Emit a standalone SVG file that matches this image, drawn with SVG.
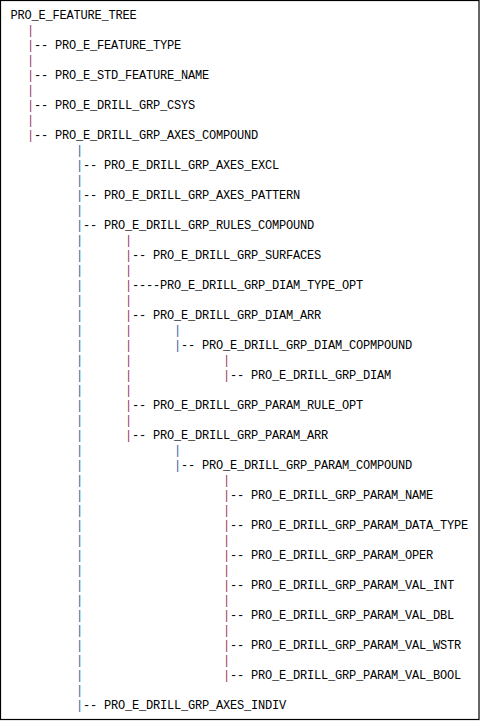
<svg xmlns="http://www.w3.org/2000/svg" width="481" height="721" viewBox="0 0 481 721">
<style>
text{font-family:"Liberation Mono","Courier New",monospace;font-size:12px;letter-spacing:-0.2px;fill:#000}
.p{fill:#993366}
.b{fill:#336699}
</style>
<rect x="0" y="0" width="481" height="721" fill="#fff"/>
<rect x="0.5" y="0.5" width="478.5" height="719" fill="none" stroke="#000" stroke-width="1.2"/>
<g id="connectors">
<text x="27" y="34" class="p">|</text>
<text x="27" y="49"><tspan class="p">|</tspan>--</text>
<text x="27" y="64" class="p">|</text>
<text x="27" y="79"><tspan class="p">|</tspan>--</text>
<text x="27" y="94" class="p">|</text>
<text x="27" y="109"><tspan class="p">|</tspan>--</text>
<text x="27" y="124" class="p">|</text>
<text x="27" y="139"><tspan class="p">|</tspan>--</text>
<text x="76" y="154" class="b">|</text>
<text x="76" y="169"><tspan class="b">|</tspan>--</text>
<text x="76" y="184" class="b">|</text>
<text x="76" y="199"><tspan class="b">|</tspan>--</text>
<text x="76" y="214" class="b">|</text>
<text x="76" y="229"><tspan class="b">|</tspan>--</text>
<text x="76" y="244" class="b">|</text><text x="125" y="244" class="p">|</text>
<text x="76" y="259" class="b">|</text><text x="125" y="259"><tspan class="p">|</tspan>--</text>
<text x="76" y="274" class="b">|</text><text x="125" y="274" class="p">|</text>
<text x="76" y="289" class="b">|</text><text x="125" y="289"><tspan class="p">|</tspan>----</text>
<text x="76" y="304" class="b">|</text><text x="125" y="304" class="p">|</text>
<text x="76" y="319" class="b">|</text><text x="125" y="319"><tspan class="p">|</tspan>--</text>
<text x="76" y="334" class="b">|</text><text x="125" y="334" class="p">|</text><text x="174" y="334" class="b">|</text>
<text x="76" y="349" class="b">|</text><text x="125" y="349" class="p">|</text><text x="174" y="349"><tspan class="b">|</tspan>--</text>
<text x="76" y="364" class="b">|</text><text x="125" y="364" class="p">|</text><text x="223" y="364" class="p">|</text>
<text x="76" y="379" class="b">|</text><text x="125" y="379" class="p">|</text><text x="223" y="379"><tspan class="p">|</tspan>--</text>
<text x="76" y="394" class="b">|</text><text x="125" y="394" class="p">|</text>
<text x="76" y="409" class="b">|</text><text x="125" y="409"><tspan class="p">|</tspan>--</text>
<text x="76" y="424" class="b">|</text><text x="125" y="424" class="p">|</text>
<text x="76" y="439" class="b">|</text><text x="125" y="439"><tspan class="p">|</tspan>--</text>
<text x="76" y="454" class="b">|</text><text x="174" y="454" class="b">|</text>
<text x="76" y="469" class="b">|</text><text x="174" y="469"><tspan class="b">|</tspan>--</text>
<text x="76" y="484" class="b">|</text><text x="223" y="484" class="p">|</text>
<text x="76" y="499" class="b">|</text><text x="223" y="499"><tspan class="p">|</tspan>--</text>
<text x="76" y="514" class="b">|</text><text x="223" y="514" class="p">|</text>
<text x="76" y="529" class="b">|</text><text x="223" y="529"><tspan class="p">|</tspan>--</text>
<text x="76" y="544" class="b">|</text><text x="223" y="544" class="p">|</text>
<text x="76" y="559" class="b">|</text><text x="223" y="559"><tspan class="p">|</tspan>--</text>
<text x="76" y="574" class="b">|</text><text x="223" y="574" class="p">|</text>
<text x="76" y="589" class="b">|</text><text x="223" y="589"><tspan class="p">|</tspan>--</text>
<text x="76" y="604" class="b">|</text><text x="223" y="604" class="p">|</text>
<text x="76" y="619" class="b">|</text><text x="223" y="619"><tspan class="p">|</tspan>--</text>
<text x="76" y="634" class="b">|</text><text x="223" y="634" class="p">|</text>
<text x="76" y="649" class="b">|</text><text x="223" y="649"><tspan class="p">|</tspan>--</text>
<text x="76" y="664" class="b">|</text><text x="223" y="664" class="p">|</text>
<text x="76" y="679" class="b">|</text><text x="223" y="679"><tspan class="p">|</tspan>--</text>
<text x="76" y="694" class="b">|</text>
<text x="76" y="709"><tspan class="b">|</tspan>--</text>
</g>
<g id="n_feature_tree"><text x="10.5" y="19">PRO_E_FEATURE_TREE</text></g>
<g id="n_feature_type"><text x="55" y="49">PRO_E_FEATURE_TYPE</text></g>
<g id="n_std_feature_name"><text x="55" y="79">PRO_E_STD_FEATURE_NAME</text></g>
<g id="n_csys"><text x="55" y="109">PRO_E_DRILL_GRP_CSYS</text></g>
<g id="n_axes_compound"><text x="55" y="139">PRO_E_DRILL_GRP_AXES_COMPOUND</text></g>
<g id="n_axes_excl"><text x="104" y="169">PRO_E_DRILL_GRP_AXES_EXCL</text></g>
<g id="n_axes_pattern"><text x="104" y="199">PRO_E_DRILL_GRP_AXES_PATTERN</text></g>
<g id="n_rules_compound"><text x="104" y="229">PRO_E_DRILL_GRP_RULES_COMPOUND</text></g>
<g id="n_surfaces"><text x="153" y="259">PRO_E_DRILL_GRP_SURFACES</text></g>
<g id="n_diam_type_opt"><text x="160" y="289">PRO_E_DRILL_GRP_DIAM_TYPE_OPT</text></g>
<g id="n_diam_arr"><text x="153" y="319">PRO_E_DRILL_GRP_DIAM_ARR</text></g>
<g id="n_diam_copmpound"><text x="202" y="349">PRO_E_DRILL_GRP_DIAM_COPMPOUND</text></g>
<g id="n_diam"><text x="251" y="379">PRO_E_DRILL_GRP_DIAM</text></g>
<g id="n_param_rule_opt"><text x="153" y="409">PRO_E_DRILL_GRP_PARAM_RULE_OPT</text></g>
<g id="n_param_arr"><text x="153" y="439">PRO_E_DRILL_GRP_PARAM_ARR</text></g>
<g id="n_param_compound"><text x="202" y="469">PRO_E_DRILL_GRP_PARAM_COMPOUND</text></g>
<g id="n_param_name"><text x="251" y="499">PRO_E_DRILL_GRP_PARAM_NAME</text></g>
<g id="n_param_data_type"><text x="251" y="529">PRO_E_DRILL_GRP_PARAM_DATA_TYPE</text></g>
<g id="n_param_oper"><text x="251" y="559">PRO_E_DRILL_GRP_PARAM_OPER</text></g>
<g id="n_param_val_int"><text x="251" y="589">PRO_E_DRILL_GRP_PARAM_VAL_INT</text></g>
<g id="n_param_val_dbl"><text x="251" y="619">PRO_E_DRILL_GRP_PARAM_VAL_DBL</text></g>
<g id="n_param_val_wstr"><text x="251" y="649">PRO_E_DRILL_GRP_PARAM_VAL_WSTR</text></g>
<g id="n_param_val_bool"><text x="251" y="679">PRO_E_DRILL_GRP_PARAM_VAL_BOOL</text></g>
<g id="n_axes_indiv"><text x="104" y="709">PRO_E_DRILL_GRP_AXES_INDIV</text></g>
</svg>
